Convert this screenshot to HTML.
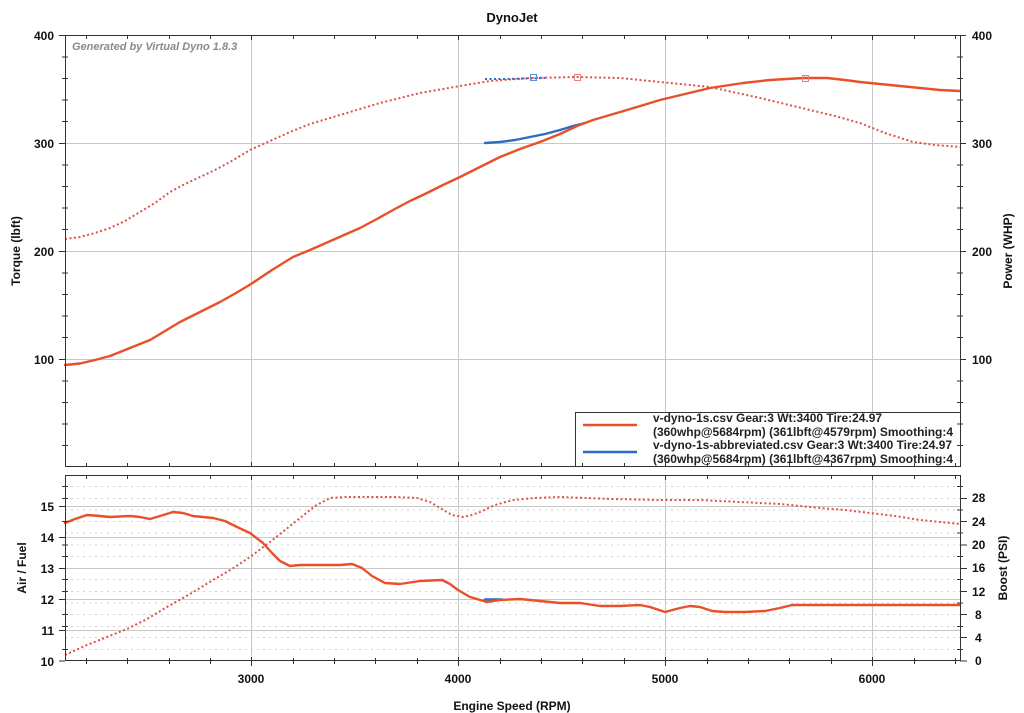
<!DOCTYPE html>
<html><head><meta charset="utf-8"><style>
html,body{margin:0;padding:0;background:#fff;}
svg{display:block;font-family:"Liberation Sans",Arial,sans-serif;}
</style></head><body>
<svg width="1024" height="713" viewBox="0 0 1024 713" xmlns="http://www.w3.org/2000/svg">
<rect width="1024" height="713" fill="#fff"/>
<text x="512" y="22" text-anchor="middle" font-size="13" font-weight="bold" fill="#111">DynoJet</text>

<!-- TOP PLOT grid -->
<g stroke="#c8c8c8" stroke-width="1">
<line x1="251.5" y1="35" x2="251.5" y2="467"/>
<line x1="458.5" y1="35" x2="458.5" y2="467"/>
<line x1="665.5" y1="35" x2="665.5" y2="467"/>
<line x1="872.5" y1="35" x2="872.5" y2="467"/>
<line x1="65" y1="143.5" x2="960" y2="143.5"/>
<line x1="65" y1="251.5" x2="960" y2="251.5"/>
<line x1="65" y1="359.5" x2="960" y2="359.5"/>
</g>
<text x="72" y="50" font-size="11" font-style="italic" font-weight="bold" fill="#8a8a8a">Generated by Virtual Dyno 1.8.3</text>

<!-- BOTTOM PLOT grid -->
<g stroke="#c8c8c8" stroke-width="1">
<line x1="251.5" y1="475" x2="251.5" y2="661"/>
<line x1="458.5" y1="475" x2="458.5" y2="661"/>
<line x1="665.5" y1="475" x2="665.5" y2="661"/>
<line x1="872.5" y1="475" x2="872.5" y2="661"/>
<line x1="65" y1="506.5" x2="960" y2="506.5"/>
<line x1="65" y1="537.5" x2="960" y2="537.5"/>
<line x1="65" y1="568.5" x2="960" y2="568.5"/>
<line x1="65" y1="599.5" x2="960" y2="599.5"/>
<line x1="65" y1="630.5" x2="960" y2="630.5"/>
</g>
<g stroke="#d0d0d0" stroke-width="1" stroke-dasharray="2 4">
<line x1="65" y1="649.5" x2="960" y2="649.5"/>
<line x1="65" y1="637.5" x2="960" y2="637.5"/>
<line x1="65" y1="626.5" x2="960" y2="626.5"/>
<line x1="65" y1="614.5" x2="960" y2="614.5"/>
<line x1="65" y1="603" x2="960" y2="603"/>
<line x1="65" y1="591.5" x2="960" y2="591.5"/>
<line x1="65" y1="579.5" x2="960" y2="579.5"/>
<line x1="65" y1="556.5" x2="960" y2="556.5"/>
<line x1="65" y1="545" x2="960" y2="545"/>
<line x1="65" y1="533" x2="960" y2="533"/>
<line x1="65" y1="521.5" x2="960" y2="521.5"/>
<line x1="65" y1="510" x2="960" y2="510"/>
<line x1="65" y1="498.5" x2="960" y2="498.5"/>
<line x1="65" y1="486.5" x2="960" y2="486.5"/>
</g>

<!-- TOP PLOT series -->
<g fill="none" stroke-linejoin="round" stroke-linecap="round">
<polyline stroke="#e0504a" stroke-width="2" stroke-dasharray="2 2.5" stroke-linecap="butt" points="65,239 80,237 95,233 110,228 125,221 140,212 155,203 170,192 185,184 200,177 215,170 230,162 250,150 270,141 290,132 310,124 330,118 350,112 380,103 420,93 460,86 490,81 530,78 577,77 620,78 660,82 710,87 760,98 810,110 835,116 860,123 885,133 913,142 935,145 960,147"/>
<polyline stroke="#2b6cc4" stroke-width="2" stroke-dasharray="2 2.5" stroke-linecap="butt" points="485,79 505,79 525,78.5 545,78"/>
<polyline stroke="#2b6cc4" stroke-width="2.4" points="485,143 500,142 515,140 530,137 545,134 560,130 573,126 585,123"/>
<polyline stroke="#e8502a" stroke-width="2.4" points="65,365 80,363.5 95,360 110,356 130,348 150,340 165,331 180,322 200,312 220,302 236,293 251,284 272,270 293,257 310,250 335,239 360,228 377,219 393,210 410,201 427,193 443,185 460,177 480,167 500,157 520,149 540,142 560,134 577,126 593,120 627,110 660,100 685,94 710,88 743,83 770,80 803,78 827,78 845,80 860,82 890,85 920,88 940,90 960,91"/>
</g>
<rect x="530.5" y="74.5" width="6" height="6" fill="none" stroke="#5a8fd0" stroke-width="1"/>
<rect x="574.5" y="74.5" width="6" height="6" fill="none" stroke="#e88080" stroke-width="1"/>
<rect x="802.5" y="75.5" width="6" height="6" fill="none" stroke="#e88080" stroke-width="1"/>

<!-- BOTTOM PLOT series -->
<g fill="none" stroke-linejoin="round" stroke-linecap="round">
<polyline stroke="#e0504a" stroke-width="2" stroke-dasharray="2 2.5" stroke-linecap="butt" points="65,655 87,645 107,637 127,629 147,619 167,607 190,594 213,580 232,569 250,557 270,542 285,530 300,518 315,506 330,498 345,497 370,497 395,497 417,498 430,502 440,508 452,515 463,517 472,515 480,512 495,505 513,500 535,498 560,497 585,498 613,499 660,500 700,500 740,502 780,504 820,508 845,510 870,513 895,516 920,520 940,522 960,524"/>
<polyline stroke="#2b6cc4" stroke-width="2.4" points="485,599.5 502,599.5"/>
<polyline stroke="#e8502a" stroke-width="2.4" points="65,523 75,519 87,515 100,516 110,517 130,516 140,517 150,519 160,516 173,512 183,513 193,516 213,518 225,521 237,527 250,533 263,543 272,553 280,561 290,566 300,565 320,565 340,565 352,564 362,568 372,576 385,583 400,584 420,581 442,580 450,584 458,590 470,597 487,602 500,600 520,599 540,601 560,603 580,603 600,606 620,606 640,605 650,607 665,612 680,608 690,606 700,607 712,611 725,612 745,612 765,611 780,608 792,605 810,605 960,605"/>
</g>

<!-- Frames -->
<g stroke="#333" stroke-width="1" fill="none">
<rect x="65.5" y="35.5" width="895" height="431"/>
<rect x="65.5" y="475.5" width="895" height="185"/>
</g>

<!-- Legend -->
<rect x="575.5" y="412.5" width="385" height="54" fill="#fff" stroke="#333" stroke-width="1"/>
<line x1="583" y1="425" x2="637" y2="425" stroke="#e8502a" stroke-width="2.4"/>
<line x1="583" y1="452" x2="637" y2="452" stroke="#2b6cc4" stroke-width="2.4"/>
<g font-size="12" font-weight="bold" fill="#222">
<text x="653" y="422" textLength="229" lengthAdjust="spacingAndGlyphs">v-dyno-1s.csv Gear:3 Wt:3400 Tire:24.97</text>
<text x="653" y="436" textLength="300" lengthAdjust="spacingAndGlyphs">(360whp@5684rpm) (361lbft@4579rpm) Smoothing:4</text>
<text x="653" y="449" textLength="299" lengthAdjust="spacingAndGlyphs">v-dyno-1s-abbreviated.csv Gear:3 Wt:3400 Tire:24.97</text>
<text x="653" y="463" textLength="300" lengthAdjust="spacingAndGlyphs">(360whp@5684rpm) (361lbft@4367rpm) Smoothing:4</text>
</g>

<!-- Ticks -->
<g stroke="#333" stroke-width="1">
<path d="M86.5,35v4M127.5,35v4M169.5,35v4M210.5,35v4M251.5,35v5M293.5,35v4M334.5,35v4M375.5,35v4M417.5,35v4M458.5,35v5M500.5,35v4M541.5,35v4M582.5,35v4M624.5,35v4M665.5,35v5M707.5,35v4M748.5,35v4M789.5,35v4M831.5,35v4M872.5,35v5M914.5,35v4M955.5,35v4"/>
<path d="M86.5,467v-4M127.5,467v-4M169.5,467v-4M210.5,467v-4M251.5,467v-5M293.5,467v-4M334.5,467v-4M375.5,467v-4M417.5,467v-4M458.5,467v-5M500.5,467v-4M541.5,467v-4M582.5,467v-4M624.5,467v-4M665.5,467v-5M707.5,467v-4M748.5,467v-4M789.5,467v-4M831.5,467v-4M872.5,467v-5M914.5,467v-4M955.5,467v-4"/>
<path d="M86.5,475v4M127.5,475v4M169.5,475v4M210.5,475v4M251.5,475v5M293.5,475v4M334.5,475v4M375.5,475v4M417.5,475v4M458.5,475v5M500.5,475v4M541.5,475v4M582.5,475v4M624.5,475v4M665.5,475v5M707.5,475v4M748.5,475v4M789.5,475v4M831.5,475v4M872.5,475v5M914.5,475v4M955.5,475v4"/>
<path d="M86.5,658v6M127.5,658v6M169.5,658v6M210.5,658v6M251.5,657v9M293.5,658v6M334.5,658v6M375.5,658v6M417.5,658v6M458.5,657v9M500.5,658v6M541.5,658v6M582.5,658v6M624.5,658v6M665.5,657v9M707.5,658v6M748.5,658v6M789.5,658v6M831.5,658v6M872.5,657v9M914.5,658v6M955.5,658v6"/>
<path d="M59,35.5h6M59,143.5h6M59,251.5h6M59,359.5h6M62,57h6M62,78.5h6M62,100h6M62,121.5h6M62,165h6M62,186.5h6M62,208h6M62,229.5h6M62,273h6M62,294.5h6M62,316h6M62,337.5h6M62,381h6M62,402.5h6M62,424h6M62,445.5h6"/>
<path d="M960,35.5h6M960,143.5h6M960,251.5h6M960,359.5h6M957,57h6M957,78.5h6M957,100h6M957,121.5h6M957,165h6M957,186.5h6M957,208h6M957,229.5h6M957,273h6M957,294.5h6M957,316h6M957,337.5h6M957,381h6M957,402.5h6M957,424h6M957,445.5h6"/>
<path d="M59,506.5h6M59,537.5h6M59,568.5h6M59,599.5h6M59,630.5h6M59,661h6M62,486.5h6M62,498.5h6M62,521.5h6M62,545h6M62,556.5h6M62,579.5h6M62,591.5h6M62,614.5h6M62,626.5h6M62,649.5h6"/>
<path d="M960,498.5h7M960,521.5h7M960,545h7M960,568.5h7M960,591.5h7M960,614.5h7M960,637.5h7M960,661h7M957,486.5h6M957,510h6M957,533h6M957,556.5h6M957,579.5h6M957,603h6M957,626.5h6M957,649.5h6"/>
</g>

<!-- Tick labels -->
<g font-size="12" font-weight="bold" fill="#111">
<g text-anchor="end">
<text x="54" y="40">400</text>
<text x="54" y="148">300</text>
<text x="54" y="256">200</text>
<text x="54" y="364">100</text>
<text x="54" y="511">15</text>
<text x="54" y="542">14</text>
<text x="54" y="573">13</text>
<text x="54" y="604">12</text>
<text x="54" y="635">11</text>
<text x="54" y="666">10</text>
</g>
<text x="972" y="40">400</text>
<text x="972" y="148">300</text>
<text x="972" y="256">200</text>
<text x="972" y="364">100</text>
<text x="972" y="502">28</text>
<text x="972" y="526">24</text>
<text x="972" y="549">20</text>
<text x="972" y="572">16</text>
<text x="972" y="596">12</text>
<text x="975" y="619">8</text>
<text x="975" y="642">4</text>
<text x="975" y="665">0</text>
<g text-anchor="middle">
<text x="251" y="683">3000</text>
<text x="458" y="683">4000</text>
<text x="665" y="683">5000</text>
<text x="872" y="683">6000</text>
<text x="512" y="710">Engine Speed (RPM)</text>
</g>
<text transform="translate(20,251) rotate(-90)" text-anchor="middle">Torque (lbft)</text>
<text transform="translate(1012,251) rotate(-90)" text-anchor="middle">Power (WHP)</text>
<text transform="translate(26,568) rotate(-90)" text-anchor="middle">Air / Fuel</text>
<text transform="translate(1007,568) rotate(-90)" text-anchor="middle">Boost (PSI)</text>
</g>
</svg>
</body></html>
